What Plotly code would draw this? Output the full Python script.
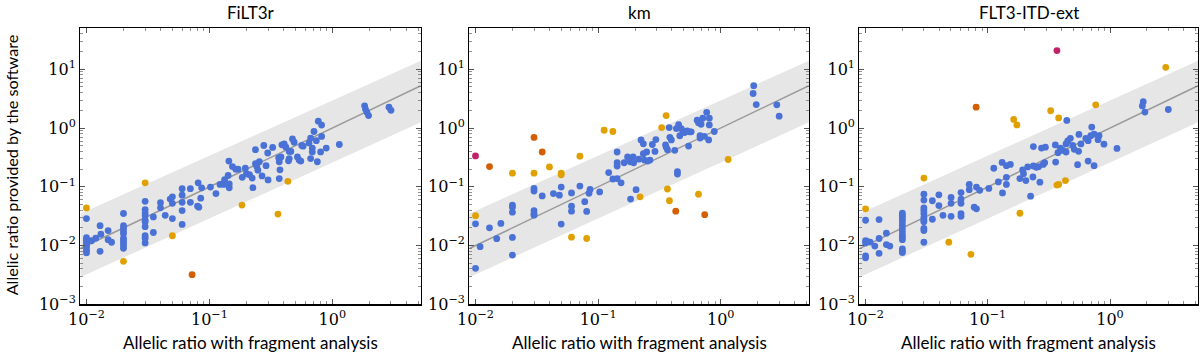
import math
import plotly.graph_objects as go

# ---------------- data ----------------
panel_titles = ["FiLT3r", "km", "FLT3-ITD-ext"]
x_label = "Allelic ratio with fragment analysis"
y_label = "Allelic ratio provided by the software"

x_tickvals = [0.01, 0.1, 1]
x_ticktext = ["10<sup>−2</sup>", "10<sup>−1</sup>", "10<sup>0</sup>"]
y_tickvals = [0.001, 0.01, 0.1, 1, 10]
y_ticktext = ["10<sup>−3</sup>", "10<sup>−2</sup>", "10<sup>−1</sup>", "10<sup>0</sup>", "10<sup>1</sup>"]

x_limits = [0.00891, 5.25]
y_limits = [0.001, 50.0]

# identity line and tolerance band
diag_x = [0.00891, 5.25]
band_low = [0.0029, 1.25]
band_high = [0.035, 14.0]

# ---- FiLT3r ----
filt3r_ok_x = [0.01, 0.01, 0.01, 0.01, 0.01, 0.01, 0.01, 0.01, 0.01,
               0.011, 0.0119, 0.0129, 0.0131, 0.0129, 0.015, 0.015, 0.016,
               0.02, 0.02, 0.02, 0.02, 0.02, 0.02, 0.02, 0.02, 0.02, 0.02,
               0.03, 0.03, 0.03, 0.03, 0.03, 0.03, 0.03, 0.03, 0.03, 0.03,
               0.035, 0.035, 0.040, 0.040, 0.0437, 0.048, 0.050, 0.050, 0.050,
               0.060, 0.060, 0.060, 0.060, 0.060, 0.070, 0.070, 0.081, 0.0865,
               0.085, 0.080, 0.082, 0.102, 0.113, 0.122, 0.131, 0.133, 0.142,
               0.145, 0.145, 0.144, 0.154, 0.164, 0.171, 0.185, 0.196, 0.2,
               0.212, 0.223, 0.226, 0.237, 0.237, 0.243, 0.248, 0.255, 0.268,
               0.277, 0.289, 0.298, 0.3, 0.327, 0.37, 0.37, 0.366, 0.375,
               0.382, 0.389, 0.406, 0.419, 0.446, 0.46, 0.446, 0.44, 0.474,
               0.489, 0.52, 0.537, 0.554, 0.564, 0.578, 0.646, 0.666, 0.687,
               0.687, 0.666, 0.709, 0.741, 0.755, 0.769, 0.803, 0.818, 0.818,
               0.892, 1.14, 1.83, 1.86, 1.91, 1.97, 2.89, 3.0]
filt3r_ok_y = [0.0288, 0.0137, 0.0126, 0.0118, 0.0108, 0.0101, 0.0092, 0.0083, 0.0075,
               0.0121, 0.0134, 0.0218, 0.0156, 0.008, 0.018, 0.0126, 0.0114,
               0.0352, 0.0218, 0.0197, 0.0177, 0.016, 0.0134, 0.0121, 0.0111, 0.0100, 0.0090,
               0.0566, 0.0407, 0.0358, 0.0323, 0.027, 0.0254, 0.021, 0.0147, 0.0134, 0.0111,
               0.0307, 0.0167, 0.0537, 0.0439, 0.0327, 0.0618, 0.0675, 0.0525, 0.0288,
               0.0929, 0.072, 0.0544, 0.0395, 0.0229, 0.0929, 0.0544, 0.117, 0.096,
               0.064, 0.047, 0.045, 0.099, 0.0767, 0.11, 0.11, 0.133, 0.156,
               0.112, 0.0964, 0.274, 0.221, 0.2, 0.2, 0.145, 0.207, 0.167,
               0.161, 0.141, 0.0966, 0.428, 0.248, 0.221, 0.192, 0.267, 0.153,
               0.505, 0.229, 0.376, 0.131, 0.468, 0.138, 0.267, 0.311, 0.195,
               0.323, 0.518, 0.538, 0.473, 0.401, 0.401, 0.303, 0.277, 0.652,
               0.573, 0.323, 0.285, 0.274, 0.505, 0.492, 0.559, 0.676, 0.456,
               0.392, 0.303, 0.873, 0.611, 0.267, 1.31, 0.392, 1.125, 0.721,
               0.456, 0.525, 2.39, 2.1, 1.85, 1.63, 2.26, 2.0]
filt3r_warn_x = [0.01, 0.02, 0.03, 0.050, 0.184, 0.361, 0.435]
filt3r_warn_y = [0.0438, 0.0054, 0.117, 0.0147, 0.049, 0.0344, 0.124]
filt3r_bad_x = [0.0723]
filt3r_bad_y = [0.0032]
filt3r_worst_x = []
filt3r_worst_y = []

# ---- km ----
km_ok_x = [0.01, 0.01, 0.0109, 0.013, 0.0149, 0.0161,
           0.02, 0.02, 0.02, 0.02, 0.02,
           0.03, 0.03, 0.03, 0.03, 0.03,
           0.035, 0.0432, 0.0483, 0.05, 0.05,
           0.0607, 0.0607, 0.0607, 0.071, 0.0778, 0.0807, 0.0843, 0.086, 0.103,
           0.122, 0.132, 0.143, 0.143, 0.143, 0.143, 0.154, 0.163, 0.174, 0.183,
           0.193, 0.195, 0.215, 0.204, 0.184,
           0.224, 0.234, 0.234, 0.249, 0.239, 0.254, 0.265, 0.277, 0.296, 0.291,
           0.355, 0.359, 0.368, 0.38, 0.385, 0.396, 0.422, 0.435, 0.454, 0.477,
           0.464, 0.492, 0.508, 0.533, 0.557, 0.575, 0.547, 0.444, 0.444,
           0.643, 0.659, 0.692, 0.714, 0.769, 0.808, 0.808, 0.679, 0.679, 0.736,
           0.798, 0.887,
           1.86, 1.84, 1.95, 2.87, 3.0]
km_ok_y = [0.0235, 0.0041, 0.0096, 0.0201, 0.0131, 0.0238,
           0.049, 0.045, 0.037, 0.0138, 0.0069,
           0.094, 0.085, 0.0395, 0.035, 0.033,
           0.070, 0.0767, 0.072, 0.099, 0.0232,
           0.0787, 0.0467, 0.0385, 0.103, 0.0558, 0.0381, 0.0777, 0.0905, 0.0818,
           0.175, 0.136, 0.138, 0.391, 0.257, 0.226, 0.117, 0.257, 0.323, 0.267,
           0.323, 0.257, 0.296, 0.0893, 0.0618,
           0.628, 0.539, 0.367, 0.392, 0.285, 0.274, 0.285, 0.525, 0.636, 0.401,
           0.518, 0.474, 0.428, 1.02, 0.695, 0.628, 0.418, 0.98, 1.14, 0.98,
           0.74, 0.895, 0.84, 0.895, 0.863, 0.863, 0.493, 0.182, 0.165,
           1.36, 1.23, 1.16, 1.47, 1.85, 1.47, 1.13, 0.74, 0.677, 0.722,
           0.628, 0.873,
           5.26, 3.87, 2.51, 2.48, 1.59]
km_warn_x = [0.01, 0.02, 0.03, 0.0401, 0.05, 0.05, 0.0607, 0.071, 0.0807, 0.112,
             0.132, 0.22, 0.33, 0.359, 0.368, 0.382, 0.659, 1.15]
km_warn_y = [0.0323, 0.171, 0.171, 0.218, 0.171, 0.16, 0.0139, 0.332, 0.0132, 0.918,
             0.873, 0.0676, 1.02, 1.63, 0.0918, 0.058, 0.0748, 0.292]
km_bad_x = [0.013, 0.03, 0.035, 0.43, 0.741]
km_bad_y = [0.221, 0.693, 0.391, 0.0386, 0.0336]
km_worst_x = [0.01]
km_worst_y = [0.336]

# ---- FLT3-ITD-ext ----
ext_ok_x = [0.01, 0.01, 0.01, 0.0104, 0.0109, 0.01, 0.01,
            0.0119, 0.0129, 0.0129, 0.0129, 0.0148, 0.0148, 0.0158,
            0.02, 0.02, 0.02, 0.02, 0.02, 0.02, 0.02, 0.02, 0.02, 0.02, 0.02, 0.02, 0.02, 0.02,
            0.03, 0.03, 0.03, 0.03, 0.03, 0.03, 0.03, 0.03, 0.03, 0.03, 0.03,
            0.0352, 0.0352, 0.0398, 0.0398, 0.043, 0.0501, 0.0501, 0.0501,
            0.0604, 0.0604, 0.0604, 0.0604, 0.0604, 0.0705, 0.0705, 0.0774, 0.0808,
            0.0808, 0.0859, 0.102, 0.112, 0.122, 0.132, 0.131, 0.142, 0.153, 0.142, 0.142,
            0.443, 1.87, 1.84, 1.93, 3.0, 0.709, 0.557, 0.474, 0.451, 0.437,
            0.357, 0.393, 0.411, 0.375, 0.437, 0.495, 0.51, 0.553, 0.578, 0.634,
            0.662, 0.696, 0.741, 0.798, 0.813, 0.892, 1.14, 0.662, 0.741, 0.543,
            0.359, 0.296, 0.275, 0.236, 0.292, 0.284, 0.236, 0.25, 0.26, 0.212,
            0.193, 0.196, 0.183, 0.205, 0.234, 0.267, 0.224]
ext_ok_y = [0.027, 0.0121, 0.0111, 0.0117, 0.0115, 0.0067, 0.0062,
            0.0098, 0.0277, 0.0132, 0.0074, 0.0163, 0.0104, 0.0098,
            0.0357, 0.0327, 0.0307, 0.0277, 0.0254, 0.0223, 0.0197, 0.0173, 0.0152, 0.0139,
            0.0126, 0.0088, 0.0081, 0.0076,
            0.0748, 0.0595, 0.0439, 0.0396, 0.0349, 0.0299, 0.027, 0.0254, 0.0197, 0.018, 0.0114,
            0.058, 0.0281, 0.073, 0.0479, 0.0327, 0.0659, 0.0523, 0.0315,
            0.0798, 0.0618, 0.0523, 0.0349, 0.0315, 0.11, 0.0895, 0.045, 0.0422,
            0.099, 0.0871, 0.094, 0.207, 0.121, 0.0787, 0.26, 0.229, 0.241, 0.145, 0.11,
            1.35, 2.81, 2.38, 1.87, 2.07, 1.04, 0.778, 0.668, 0.603, 0.537,
            0.517, 0.456, 0.417, 0.381, 0.391, 0.505, 0.434, 0.402, 0.537, 0.668,
            0.611, 0.74, 0.787, 0.635, 0.74, 0.531, 0.45, 0.274, 0.229, 0.238,
            0.264, 0.473, 0.456, 0.485, 0.257, 0.241, 0.226, 0.215, 0.22, 0.218,
            0.194, 0.167, 0.138, 0.128, 0.147, 0.12, 0.0693]
ext_warn_x = [0.01, 0.03, 0.048, 0.0728, 0.163, 0.173, 0.183, 0.327, 0.368, 0.38,
              0.38, 0.432, 0.764, 2.86]
ext_warn_y = [0.0422, 0.141, 0.0114, 0.0071, 1.40, 1.13, 0.0355, 1.97, 0.107, 0.11,
              1.49, 0.128, 2.48, 10.8]
ext_bad_x = [0.0803]
ext_bad_y = [2.27]
ext_worst_x = [0.368]
ext_worst_y = [20.8]

# ---------------- styling ----------------
C_OK = "#4A72D6"
C_WARN = "#E0A000"
C_BAD = "#D55E00"
C_WORST = "#C2226A"
BAND = "#E6E6E6"
LINE = "#999999"

W, H = 1200, 363
x_domains_px = [(69, 413), (462, 805), (856, 1198)]
y_domain_px = (29, 313)

panels = [
    (filt3r_ok_x, filt3r_ok_y, filt3r_warn_x, filt3r_warn_y, filt3r_bad_x, filt3r_bad_y, filt3r_worst_x, filt3r_worst_y),
    (km_ok_x, km_ok_y, km_warn_x, km_warn_y, km_bad_x, km_bad_y, km_worst_x, km_worst_y),
    (ext_ok_x, ext_ok_y, ext_warn_x, ext_warn_y, ext_bad_x, ext_bad_y, ext_worst_x, ext_worst_y),
]

fig = go.Figure()
ydom = [1 - y_domain_px[1] / H, 1 - y_domain_px[0] / H]
annotations = []
SANS = "Lato"

for i, (data, title) in enumerate(zip(panels, panel_titles)):
    n = "" if i == 0 else str(i + 1)
    xa, ya = "x" + n, "y" + n
    okx, oky, wx, wy, bx, by, zx, zy = data
    # band
    fig.add_trace(go.Scatter(x=diag_x, y=band_low, mode="lines", line=dict(width=0, color=BAND),
                             xaxis=xa, yaxis=ya, showlegend=False, hoverinfo="skip"))
    fig.add_trace(go.Scatter(x=diag_x, y=band_high, mode="lines", line=dict(width=0, color=BAND),
                             fill="tonexty", fillcolor=BAND,
                             xaxis=xa, yaxis=ya, showlegend=False, hoverinfo="skip"))
    # identity line
    fig.add_trace(go.Scatter(x=diag_x, y=diag_x, mode="lines", line=dict(width=1.5, color=LINE),
                             xaxis=xa, yaxis=ya, showlegend=False, hoverinfo="skip"))
    for xs, ys, c in ((okx, oky, C_OK), (wx, wy, C_WARN), (bx, by, C_BAD), (zx, zy, C_WORST)):
        if xs:
            fig.add_trace(go.Scatter(x=xs, y=ys, mode="markers",
                                     marker=dict(size=6.8, color=c, line=dict(width=0)),
                                     xaxis=xa, yaxis=ya, showlegend=False))
    d = x_domains_px[i]
    common = dict(type="log", showline=True, linecolor="black", linewidth=1.3, mirror="allticks",
                  ticks="inside", ticklen=5, tickwidth=1, tickcolor="#555555",
                  showgrid=False, zeroline=False,
                  tickfont=dict(family="DejaVu Serif", size=16, color="black"),
                  minor=dict(ticks="inside", ticklen=3, tickwidth=0.8, tickcolor="#777777",
                             dtick="D1", showgrid=False))
    fig.layout["xaxis" + n] = go.layout.XAxis(
        domain=[d[0] / W, d[1] / W], anchor=ya,
        range=[math.log10(x_limits[0]), math.log10(x_limits[1])],
        tickvals=x_tickvals, ticktext=x_ticktext, **common)
    fig.layout["yaxis" + n] = go.layout.YAxis(
        domain=ydom, anchor=xa,
        range=[math.log10(y_limits[0]), math.log10(y_limits[1])],
        tickvals=y_tickvals, ticktext=y_ticktext, **common)
    cx = (d[0] + d[1]) / 2 / W
    annotations.append(dict(text=title, x=cx, y=1, xref="paper", yref="paper",
                            showarrow=False, xanchor="center", yanchor="top",
                            font=dict(family=SANS, size=17, color="black")))
    annotations.append(dict(text=x_label, x=cx, y=1 - 352 / H, xref="paper", yref="paper",
                            showarrow=False, xanchor="center", yanchor="middle",
                            font=dict(family=SANS, size=17, color="black")))

annotations.append(dict(text=y_label, x=-1 / W, y=1 - 170 / H, xref="paper", yref="paper",
                        showarrow=False, xanchor="center", yanchor="middle", textangle=-90,
                        font=dict(family=SANS, size=16.2, color="black")))

fig.update_layout(width=W, height=H, margin=dict(l=0, r=0, t=0, b=0),
                  plot_bgcolor="white", paper_bgcolor="white",
                  hovermode=False, annotations=annotations)

# the page's default 8px body margin would shift the whole figure; remove it
fig.write_html("out.html", config={"displayModeBar": False, "staticPlot": True},
               post_script="document.body.style.margin='0px';")
